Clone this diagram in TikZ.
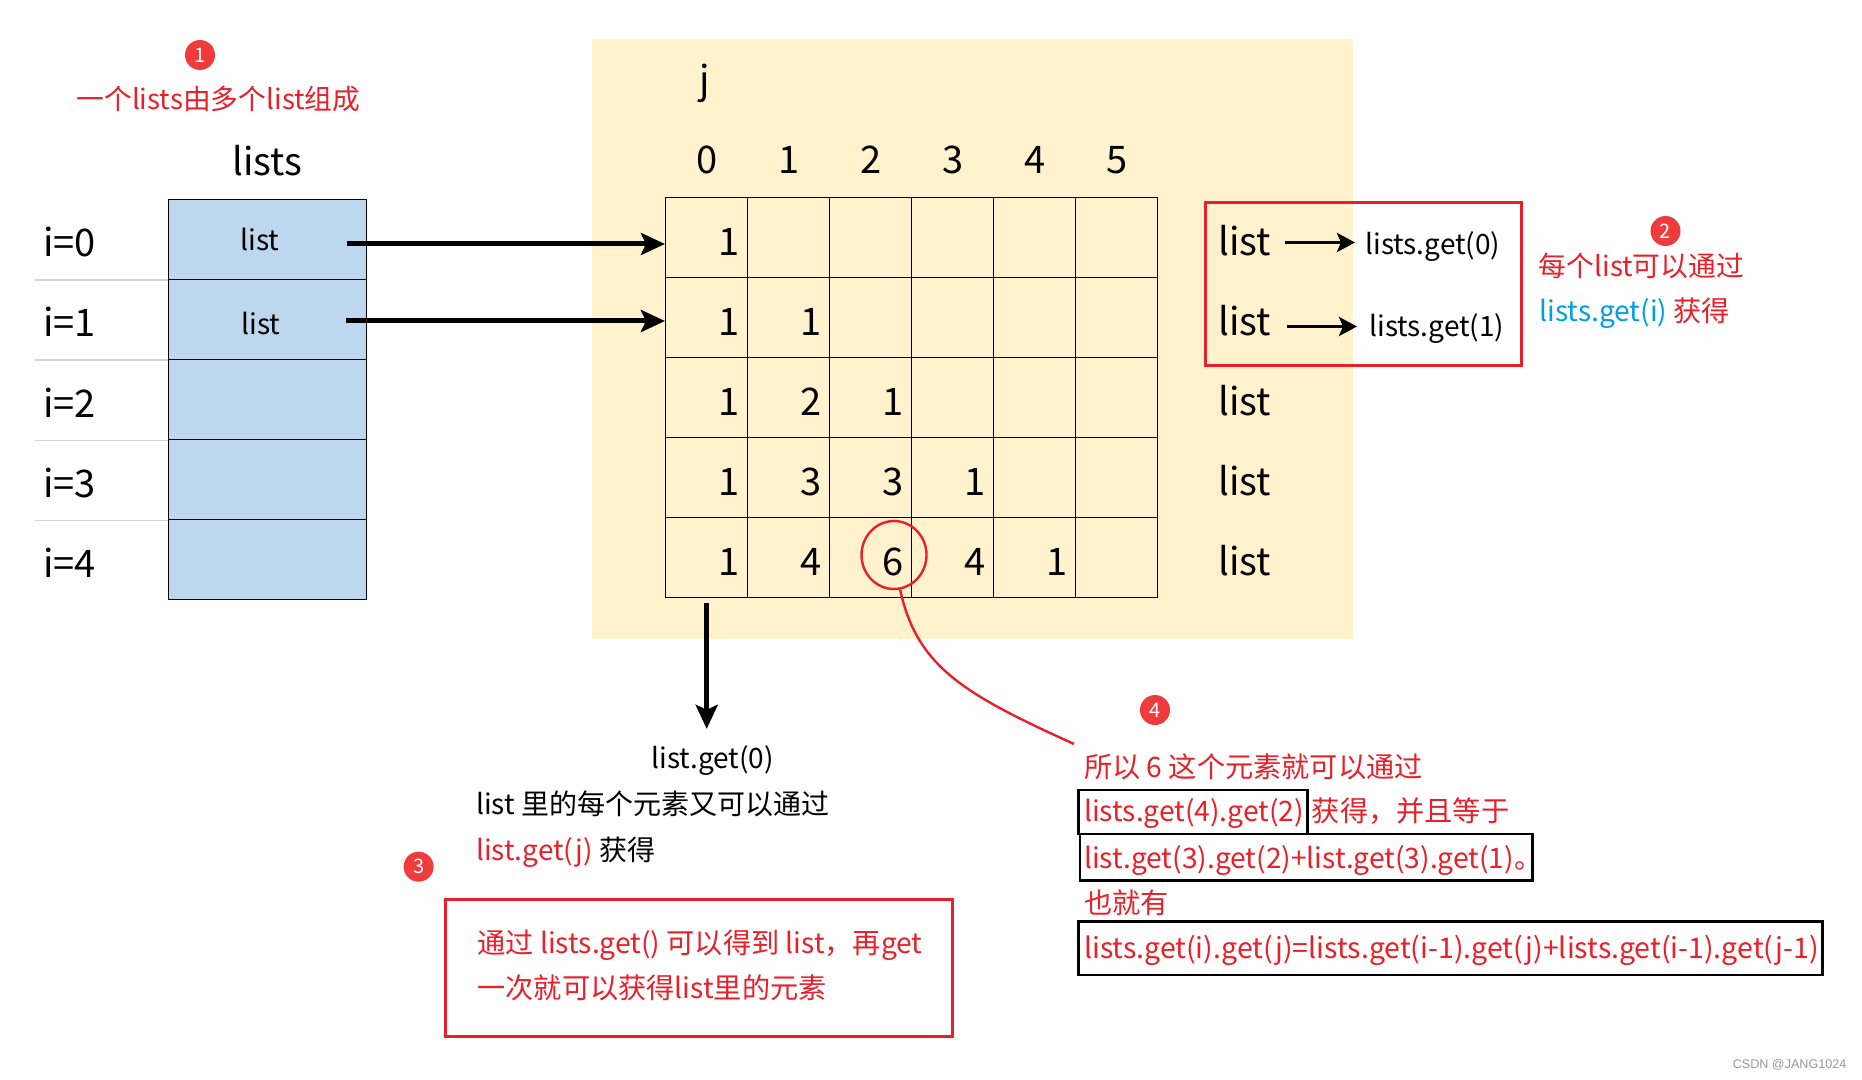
\documentclass[tikz,border=0pt]{standalone}
\usepackage{fontspec}
\setmainfont{Noto Sans CJK SC}
\newfontfamily\wmfont{Liberation Sans}
\usetikzlibrary{arrows.meta,shapes.geometric}
\definecolor{redc}{RGB}{232,32,42}
\definecolor{bluefill}{RGB}{189,215,238}
\definecolor{yellowbg}{RGB}{255,242,204}
\definecolor{bluetext}{RGB}{0,158,226}
\definecolor{badge}{RGB}{239,59,59}
\definecolor{sepgray}{RGB}{212,212,212}
\begin{document}
\begin{tikzpicture}[x=0.5pt,y=-0.5pt,
  big/.style={font=\fontsize{19}{22}\selectfont, inner sep=0pt},
  mid/.style={font=\fontsize{14}{17}\selectfont, inner sep=0pt},
  small/.style={font=\fontsize{14.1}{17}\selectfont, inner sep=0pt},
  form/.style={font=\fontsize{14.1}{17}\selectfont, inner sep=0pt},
  bcell/.style={draw=black, fill=bluefill, line width=0.75pt, minimum width=99.2pt, minimum height=40pt, inner sep=0pt},
  gcell/.style={draw=black, line width=0.75pt, minimum width=41pt, minimum height=40pt, inner sep=0pt},
  badgenode/.style={circle, fill=badge, text=white, minimum size=15pt, inner sep=0pt, font=\fontsize{10}{12}\selectfont},
  bigarrow/.style={line width=2.5pt, -{Stealth[length=12pt,width=11pt,inset=2.5pt]}},
  smallarrow/.style={line width=1.9pt, -{Stealth[length=9pt,width=9.5pt,inset=2pt]}},
  redframe/.style={draw=redc, line width=1.5pt},
  blackframe/.style={draw=black, line width=1.4pt},
]
\useasboundingbox (0,0) rectangle (1862,1080);
\fill[white] (0,0) rectangle (1862,1080);
% yellow background
\fill[yellowbg] (592,39) rectangle (1353,639);

% ---- left: lists column ----
\node[badgenode] (c1) at (200,55) {1};
\node[small, font=\fontsize{13.9}{17}\selectfont, text=redc, anchor=base west] (t1) at (76,110) {一个lists由多个list组成};
\node[big, anchor=base] (lists) at (267.5,176) {lists};
\foreach \r in {0,...,4} {
  \node[bcell] (b\r) at (267.5, {239.5+80*\r}) {};
  \node[big, anchor=base west] (i\r) at (43, {199.5+80*\r+57.5}) {i=\r};
}
\foreach \r in {0,...,3} {
  \draw[sepgray, line width=0.75pt] (b\r.south west) -- ++(-133,0);
}
\node[small, anchor=base] (bl0) at (260,251) {list};
\node[small, anchor=base] (bl1) at (261,335) {list};

% ---- grid ----
\node[big, anchor=base] (jlab) at (705,94) {j};
\foreach \c in {0,...,5} {
  \node[big, anchor=base] (h\c) at ({706.7+82*\c},174) {\c};
  \foreach \r in {0,...,4} {
    \node[gcell] (g\r\c) at ({706.7+82*\c},{237.3+80*\r}) {};
  }
}
\foreach \vals [count=\r from 0] in {{1},{1,1},{1,2,1},{1,3,3,1},{1,4,6,4,1}} {
  \foreach \v [count=\c from 0] in \vals {
    \node[big, anchor=base east] (n\r\c) at ({665.7+82*(\c+1)-8},{197.3+80*\r+58}) {\v};
  }
}
\foreach \r in {0,...,4} {
  \node[big, anchor=base west] (rl\r) at (1218,{197.3+80*\r+58}) {list};
}

% arrows from lists to grid rows
\coordinate (s0) at (347,244);
\coordinate (s1) at (346,321);
\draw[bigarrow] (s0) -- (s0 -| g00.west);
\draw[bigarrow] (s1) -- (s1 -| g10.west);

% ---- top right red box ----
\draw[redframe] (1205.5,202.5) rectangle (1521,365.5);
\node[mid, anchor=base west] (lg0) at (1365,255) {lists.get(0)};
\node[mid, anchor=base west] (lg1) at (1369,337) {lists.get(1)};
\coordinate (ts0) at (1285,242.5);
\coordinate (ts1) at (1286.5,326.5);
\draw[smallarrow] (ts0) -- ([xshift=-5pt]lg0.west |- ts0);
\draw[smallarrow] (ts1) -- ([xshift=-6pt]lg1.west |- ts1);
\node[badgenode] (c2) at (1665.5,231) {2};
\node[small, font=\fontsize{13.9}{17}\selectfont, text=redc, anchor=base west] (t2a) at (1538.5,277) {每个list可以通过};
\node[small, anchor=base west] (t2b) at (1539,322) {\textcolor{bluetext}{lists.get(i)} \textcolor{redc}{获得}};

% ---- down arrow and texts ----
\draw[bigarrow] ([yshift=-2.4pt]g40.south) -- ++(0,126);
\node[mid, anchor=base west] (lgz) at (651,768) {list.get(0)};
\node[mid, anchor=base west] (t3a) at (475.7,814) {list 里的每个元素又可以通过};
\node[mid, anchor=base west] (t3b) at (475.7,860) {\textcolor{redc}{list.get(j)} 获得};
\node[badgenode] (c3) at (418.6,866.7) {3};
\draw[redframe] (445.7,899.3) rectangle (952.9,1036.7);
\node[small, text=redc, anchor=base west] (t4a) at (477,953) {通过 lists.get() 可以得到 list，再get};
\node[small, text=redc, anchor=base west] (t4b) at (477,998) {一次就可以获得list里的元素};

% ---- ring around 6 and curve ----
\node[ellipse, draw=redc, line width=1.2pt, minimum width=32.5pt, minimum height=34pt, inner sep=0pt] (ring) at (894,555) {};
\coordinate (cend) at (1074,744);
\draw[redc, line width=1.2pt] (ring.-80) .. controls (917,667) and (964,694) .. (cend);

% ---- bottom right ----
\node[badgenode] (c4) at (1155,710) {4};
\node[small, text=redc, anchor=base west] (t5a) at (1083.7,777) {所以 6 这个元素就可以通过};
\draw[blackframe] (1078.5,790) rectangle (1307.4,834);
\node[form, text=redc, anchor=base west] (t5b) at (1083.7,821) {lists.get(4).get(2)};
\node[small, text=redc, anchor=base west] (t5c) at (1311.5,821) {获得，并且等于};
\draw[blackframe] (1080,834) rectangle (1532.6,880.7);
\node[form, text=redc, anchor=base west] (t5d) at (1083.7,868) {list.get(3).get(2)+list.get(3).get(1)。};
\node[small, text=redc, anchor=base west] (t5e) at (1083.7,913) {也就有};
\draw[blackframe] (1078.5,921.7) rectangle (1822.6,975);
\node[form, font=\fontsize{14.25}{17}\selectfont, text=redc, anchor=base west] (t5f) at (1083.7,958.3) {lists.get(i).get(j)=lists.get(i-1).get(j)+lists.get(i-1).get(j-1)};

% watermark
\node[inner sep=0pt, text=black!40, font=\wmfont\fontsize{6.3}{7}\selectfont] (wm) at (1789.6,1065) {CSDN @JANG1024};
\end{tikzpicture}
\end{document}
